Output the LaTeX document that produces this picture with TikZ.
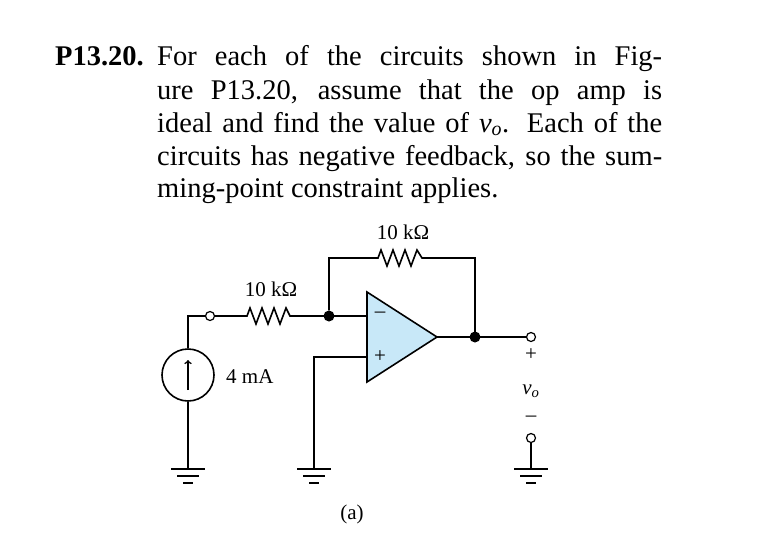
\documentclass[tikz,border=0pt]{standalone}
\usepackage{fontspec}
\setmainfont{Liberation Serif}
\definecolor{oafill}{RGB}{200,232,248}
\begin{document}
\begin{tikzpicture}[x=1pt,y=-1pt,
  w/.style={line width=1.6pt},
  oc/.style={circle,draw,line width=1.2pt,fill=white,inner sep=0,minimum size=9pt},
  dot/.style={circle,fill=black,inner sep=0,minimum size=11pt},
  lbl/.style={font=\fontsize{21}{21}\selectfont,inner sep=0},
  tl/.style={anchor=base west,inner sep=0,font=\fontsize{28.5}{28.5}\selectfont}]
\useasboundingbox (0,0) rectangle (766,542);
\node[tl] (p) at (55,65) {\textbf{P13.20.}};
\node[tl] (l1) at (157,65) {\makebox[505pt][s]{For each of the circuits shown in Fig-}};
\node[tl] (l2) at (157,99) {\makebox[505pt][s]{ure P13.20, assume that the op amp is}};
\node[tl] (l3) at (157,132) {\makebox[505pt][s]{ideal and find the value of \textit{v}\textsubscript{\textit{o}}. Each of the}};
\node[tl] (l4) at (157,165) {\makebox[505pt][s]{circuits has negative feedback, so the sum-}};
\node[tl] (l5) at (157,197) {ming-point constraint applies.};
% op amp
\draw[w,fill=oafill] (367,292) -- (437,337) -- (367,382) -- cycle;
\node[lbl] (mi) at (380,315) {–};
\node[lbl] (pl) at (380,357) {+};
% source
\node[circle,draw,line width=1.6pt,minimum size=52pt,inner sep=0] (src) at (188,375) {};
\draw[w,->] (188,390) -- (188,360);
\node[lbl,anchor=west] (ma) at (226,377) {4 mA};
\coordinate (g1) at (188,469);
\coordinate (g2) at (314,469);
\coordinate (g3) at (531,469);
\draw[w] (src.north) |- (210,316);
\draw[w] (src.south) -- (g1);
\node[oc] (in) at (210,316) {};
% resistor 1
\draw[w] (in) -- (247,316) -- (250,308) -- (256,324) -- (262,308) -- (268,324) -- (274,308) -- (280,324) -- (286,308) -- (290,316) -- (367,316);
\node[lbl] (r1) at (271,289) {10 kΩ};
\node[dot] (j) at (329,316) {};
% feedback
\draw[w] (j) |- (378,258) -- (381,250) -- (387,266) -- (393,250) -- (399,266) -- (405,250) -- (411,266) -- (417,250) -- (422,258) -| (475,337);
\node[lbl] (r2) at (403,232) {10 kΩ};
\draw[w] (367,357) -| (g2);
\node[dot] (jo) at (475,337) {};
\draw[w] (437,337) -- (527,337);
\node[oc] (o1) at (531,337) {};
\node[oc] (o2) at (531,438) {};
\draw[w] (o2) -- (g3);
\node[lbl] (pp) at (531,355) {+};
\node[lbl] (vo) at (531,391) {\textit{v}\textsubscript{\textit{o}}};
\node[lbl] (mm) at (531,419) {–};
\foreach \g in {g1,g2,g3}{
  \draw[w] ([xshift=-17pt]\g) -- ([xshift=17pt]\g);
  \draw[w] ([xshift=-11pt,yshift=-7pt]\g) -- ([xshift=11pt,yshift=-7pt]\g);
  \draw[w] ([xshift=-5pt,yshift=-14pt]\g) -- ([xshift=5pt,yshift=-14pt]\g);
}
\node[lbl] (a) at (352,514) {(a)};
\end{tikzpicture}
\end{document}
